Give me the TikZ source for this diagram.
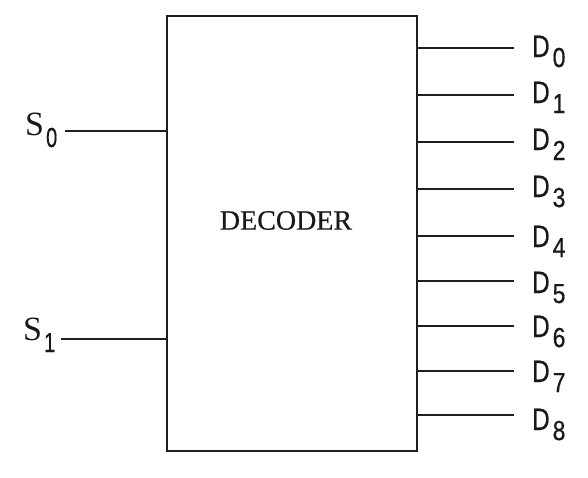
\documentclass[tikz,border=0pt]{standalone}
\usepackage{fontspec}
\setmainfont[FakeBold=0.5]{Liberation Serif}
\newfontfamily\dsans[FakeBold=0.6]{Liberation Sans}
\newfontfamily\sserif{Liberation Serif}
\newcommand\dlab[1]{\fontsize{31}{34}\selectfont\scalebox{0.78}[1]{\dsans D}\hspace{3pt}\raisebox{-10pt}{\fontsize{25}{30}\selectfont\scalebox{0.92}[1.1]{\dsans #1}}}
\newcommand\slab[1]{{\fontsize{34}{36}\selectfont\sserif S}\hspace{2pt}\raisebox{-12pt}{\fontsize{25}{30}\selectfont\scalebox{0.8}[1.1]{\dsans #1}}}
\begin{document}
\begin{tikzpicture}[x=1pt,y=-1pt,
  wire/.style={draw=black!88,line width=2.3pt},
  lab/.style={anchor=base west,inner sep=0pt,text=black!90}]
\useasboundingbox (0,0) rectangle (588,477);
\node[draw=black!88,line width=2.3pt,minimum width=250pt,minimum height=435pt,inner sep=0pt] (dec) at (292,233.5) {};
\node[inner sep=0pt,text=black!90] (title) at (286,220.5) {\fontsize{28}{32}\selectfont DECODER};
% inputs
\coordinate (s0) at (65,131);
\coordinate (s1) at (61,339);
\draw[wire] (s0) -- (dec.west |- s0);
\draw[wire] (s1) -- (dec.west |- s1);
\node[lab] (ls0) at (25,135) {\slab{0}};
\node[lab] (ls1) at (23,340) {\slab{1}};
% outputs
\foreach \i/\y/\b in {0/48/57,1/95/103,2/142/150,3/189/197,4/236/247,5/281/293,6/326/337,7/371/382,8/415/430}{
  \coordinate (d\i) at (514,\y);
  \draw[wire] (dec.east |- d\i) -- (d\i);
  \node[lab] (ld\i) at (532,\b) {\dlab{\i}};
}
\end{tikzpicture}
\end{document}
